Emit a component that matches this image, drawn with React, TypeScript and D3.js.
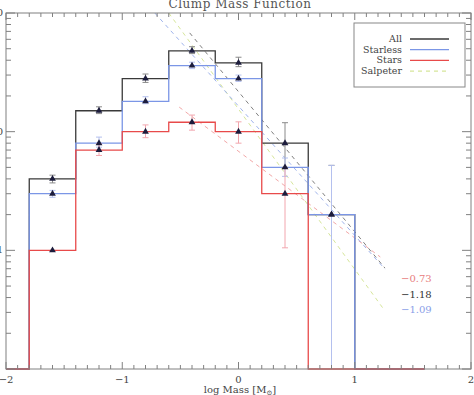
import React from "react";
import * as d3 from "d3";

const W = 474;
const H = 395;

// histogram bins (log mass), centres
const binCenters = [-1.6, -1.2, -0.8, -0.4, 0.0, 0.4, 0.8];
const BIN = 0.4;

const allVals = [4, 15, 28, 48, 38, 8, 2];
const allLo = [3.7, 14.2, 26, 45.5, 35.3, 5, 0];
const allHi = [4.3, 16.2, 30.6, 52, 42.4, 11.9, 5.2];

const starlessVals = [3, 8, 18, 36, 28, 5, 2];
const starlessLo = [2.8, 7.4, 17.2, 34, 26.5, 4.2, 0];
const starlessHi = [3.2, 9, 19.7, 38.5, 30, 6, 5.2];

const starsVals = [1, 7, 10, 12, 10, 3, 0];
const starsLo = [1, 6.3, 8.9, 10.3, 8, 1.05, 0];
const starsHi = [1, 7.9, 11.4, 13.8, 12.1, 4.9, 0];

// fitted power laws: [x start, value at start, slope, x end]
const fitAll = [-0.42, 68, -1.18, 1.26];
const fitStarless = [-0.72, 100, -1.09, 1.26];
const fitStars = [-0.51, 16.1, -0.73, 1.22];
const fitSalpeter = [-0.6, 100, -1.35, 1.25];

const xTicks = [-2, -1, 0, 1, 2];
const yMajor = [0.1, 1, 10, 100];
const slopeLabels = ["\u22120.73", "\u22121.18", "\u22121.09"];
const legendNames = ["All", "Starless", "Stars", "Salpeter"];

const BLACK = "#3a3a3a";
const BLUE = "#7b96e6";
const RED = "#e84a4a";
const GREEN = "#d6e69a";

const x = d3.scaleLinear().domain([-2, 2]).range([6, 471]);
const y = d3.scaleLog().domain([0.1, 100]).range([369, 13]).clamp(true);

function stepPoints(vals: number[]): [number, number][] {
  const pts: [number, number][] = [[x(-2), y(0.1)], [x(binCenters[0] - BIN / 2), y(0.1)]];
  vals.forEach((v, i) => {
    const c = binCenters[i];
    const yy = v > 0 ? y(v) : y(0.1);
    pts.push([x(c - BIN / 2), yy], [x(c + BIN / 2), yy]);
  });
  const last = binCenters[binCenters.length - 1] + BIN / 2;
  pts.push([x(last), y(0.1)], [x(1.6), y(0.1)]);
  return pts;
}

function fitLine(f: number[]) {
  const [x0, v0, s, x1] = f;
  const v1 = v0 * Math.pow(10, s * (x1 - x0));
  return { x1: x(x0), y1: y(v0), x2: x(x1), y2: y(v1) };
}

const line = d3.line<[number, number]>();
const tri = d3.symbol(d3.symbolTriangle, 20)() || "";

function Series({ vals, color }: any) {
  return <path d={line(stepPoints(vals)) || ""} fill="none" stroke={color} strokeWidth={1.3} />;
}

function Errs({ vals, lo, hi, errColor }: any) {
  return (
    <g>
      {vals.map((v: number, i: number) => {
        if (v <= 0) return null;
        const cx = x(binCenters[i]);
        const y1 = lo[i] > 0 ? y(lo[i]) : y(0.1);
        const y2 = y(hi[i]);
        if (Math.abs(y1 - y2) < 1) return null;
        return (
          <g key={i} stroke={errColor} strokeWidth={1}>
            <line x1={cx} x2={cx} y1={y1} y2={y2} />
            <line x1={cx - 3} x2={cx + 3} y1={y2} y2={y2} />
            {lo[i] > 0 && <line x1={cx - 3} x2={cx + 3} y1={y1} y2={y1} />}
          </g>
        );
      })}
    </g>
  );
}

function Marks({ vals }: { vals: number[] }) {
  return (
    <g>
      {vals.map((v, i) =>
        v > 0 ? (
          <path key={i} d={tri} transform={`translate(${x(binCenters[i])},${y(v)})`} fill="#1c1c3c" />
        ) : null
      )}
    </g>
  );
}

export default function App() {
  const minorX = d3.range(-2, 2.001, 0.1).map((d) => Math.round(d * 10) / 10);
  const minorY: number[] = [];
  [0.1, 1, 10].forEach((dec) => {
    for (let k = 2; k <= 9; k++) minorY.push(dec * k);
  });
  const fits = [
    { f: fitStars, c: "#f2a8a8" },
    { f: fitSalpeter, c: GREEN },
    { f: fitStarless, c: "#a0b4ec" },
    { f: fitAll, c: "#808080" },
  ];
  const font = "'DejaVu Serif', serif";
  return (
    <div style={{ position: "absolute", left: 0, top: 0 }}>
      <svg width={W} height={H} style={{ display: "block", background: "#fff" }} fontFamily={font}>
        <text x={240} y={8} textAnchor="middle" fontSize={12} fill="#555" letterSpacing={0.5}>
          Clump Mass Function
        </text>

        {/* fitted slopes */}
        {fits.map((d, i) => {
          const l = fitLine(d.f);
          return <line key={i} {...l} stroke={d.c} strokeWidth={1} strokeDasharray="4,4" />;
        })}

        <Series vals={allVals} color={BLACK} />
        <Series vals={starlessVals} color={BLUE} />
        <Series vals={starsVals} color={RED} />

        <Errs vals={allVals} lo={allLo} hi={allHi} errColor="#8a8a8a" />
        <Errs vals={starlessVals} lo={starlessLo} hi={starlessHi} errColor="#b4c0ee" />
        <Errs vals={starsVals} lo={starsLo} hi={starsHi} errColor="#f2a6ae" />

        <Marks vals={allVals} />
        <Marks vals={starlessVals} />
        <Marks vals={starsVals} />

        {/* frame and ticks */}
        <rect x={6} y={13} width={465} height={356} fill="none" stroke="#808080" strokeWidth={1} />
        <g stroke="#808080" strokeWidth={1}>
          {minorX.map((d) => {
            const major = xTicks.includes(d);
            const len = major ? 7 : 4;
            return (
              <g key={d}>
                <line x1={x(d)} x2={x(d)} y1={369} y2={369 - len} />
                <line x1={x(d)} x2={x(d)} y1={13} y2={13 + len} />
              </g>
            );
          })}
          {minorY.map((d) => (
            <g key={d}>
              <line x1={6} x2={11} y1={y(d)} y2={y(d)} />
              <line x1={471} x2={466} y1={y(d)} y2={y(d)} />
            </g>
          ))}
          {yMajor.map((d) => (
            <g key={d}>
              <line x1={6} x2={15} y1={y(d)} y2={y(d)} />
              <line x1={471} x2={462} y1={y(d)} y2={y(d)} />
            </g>
          ))}
        </g>
        {xTicks.map((d) => (
          <text key={d} x={x(d)} y={383} textAnchor="middle" fontSize={10} fill="#444">
            {d < 0 ? `\u2212${-d}` : d}
          </text>
        ))}
        {yMajor.slice(1).map((d) => (
          <text key={d} x={3} y={y(d) + 3} textAnchor="end" fontSize={10} fill="#444">
            {d}
          </text>
        ))}
        <text x={240} y={393} textAnchor="middle" fontSize={10} fill="#444">
          log Mass [M<tspan fontSize={7} dy={2}>{"\u2299"}</tspan>
          <tspan dy={-2}>]</tspan>
        </text>

        {/* legend */}
        <rect x={354} y={23} width={111} height={64} fill="#fff" stroke="#888" />
        {legendNames.map((n, i) => {
          const ly = 39 + i * 10.7;
          const c = [BLACK, BLUE, RED, GREEN][i];
          return (
            <g key={n}>
              <text x={402} y={ly + 3} textAnchor="end" fontSize={9.5} fill="#444">
                {n}
              </text>
              <line x1={410} x2={449} y1={ly} y2={ly} stroke={c} strokeWidth={1.3} strokeDasharray={i === 3 ? "4,4" : undefined} />
            </g>
          );
        })}

        {slopeLabels.map((t, i) => (
          <text key={t} x={401} y={282 + i * 15.5} fontSize={10} fill={["#e88080", "#333", "#8aa0e8"][i]}>
            {t}
          </text>
        ))}
      </svg>
    </div>
  );
}
